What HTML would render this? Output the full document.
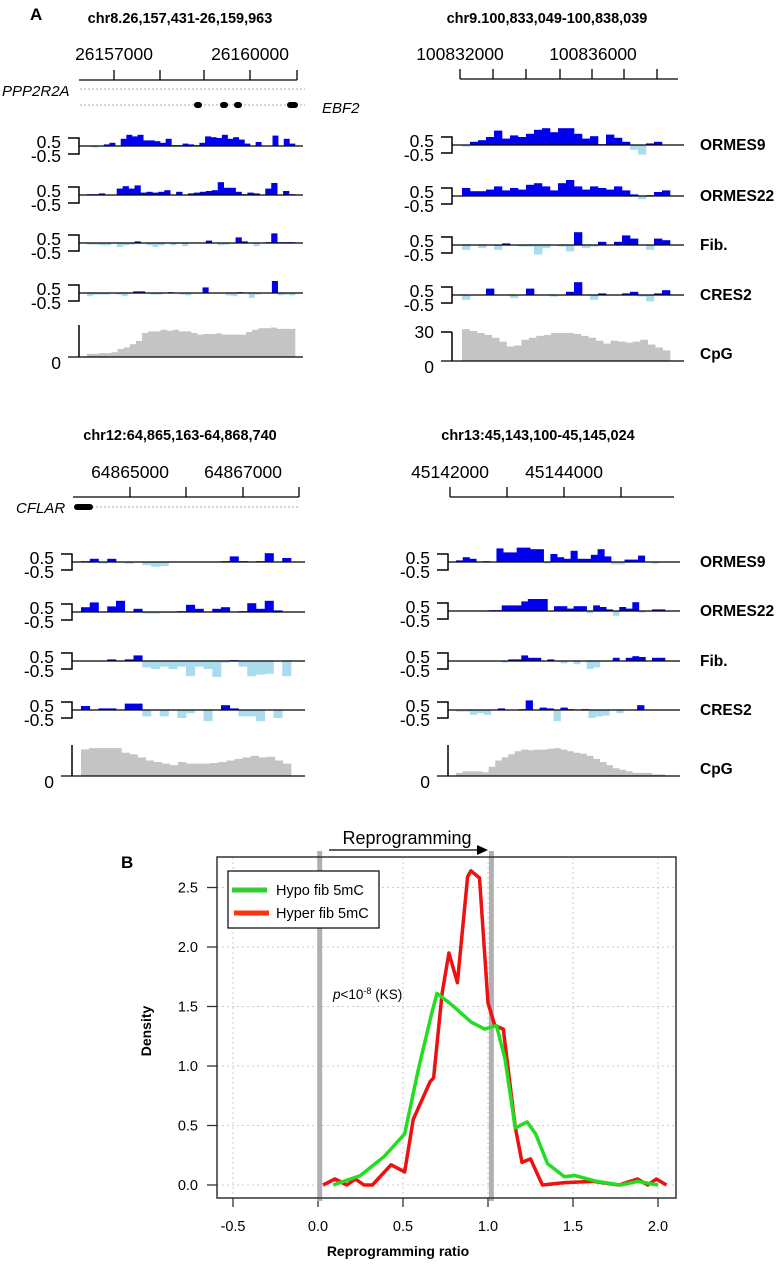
<!DOCTYPE html>
<html><head><meta charset="utf-8"><style>
html,body{margin:0;padding:0;background:#fff}
svg{display:block;font-family:"Liberation Sans",Arial,sans-serif}
</style></head><body>
<svg id="fig" width="778" height="1280" viewBox="0 0 778 1280" xmlns="http://www.w3.org/2000/svg"></svg>
<script>
// ---------- Panel A data ----------
const tlORMES9=[-0.05,-0.1,0,0.1,0.2,0,0.45,0.7,0.6,0.7,0.35,0.35,0.3,0.2,0.45,0.05,0.05,0.15,0.1,0.05,0.2,0.6,0.55,0.5,0.7,0.45,0.55,0.4,0.15,0,0.25,0,0,0.65,0,0.45,0.15];
const tlORMES22=[0.05,0.05,0.1,0,0,0.4,0.55,0.4,0.6,0.15,0.2,0.15,0.2,0.3,0,0.2,0,0.1,0.15,0.2,0.25,0.3,0.8,0.45,0.45,0.2,0.05,0.15,0.1,0,0.4,0.75,0,0.25,0.05];
const tlFib=[-0.1,-0.1,-0.15,-0.15,0,-0.25,-0.15,-0.1,0.1,0,-0.15,-0.25,-0.15,0,-0.15,0,-0.2,0,0,0,0.15,0,-0.15,-0.1,0,0.35,0.1,0,-0.2,0,0.05,0.6,0.05,0.05,0.05];
const tlCRES2=[-0.2,-0.1,-0.1,-0.1,0,-0.1,-0.2,0,0.1,0.1,0,-0.1,-0.1,0,0.05,0,-0.1,-0.15,0,0,0.35,0,0,0,-0.15,-0.2,0.05,0,-0.3,-0.1,0,0,0.75,-0.15,-0.1,-0.15];
const tlCpG=[0.1,0.1,0.12,0.12,0.15,0.25,0.3,0.4,0.5,0.75,0.8,0.8,0.85,0.82,0.85,0.8,0.8,0.75,0.7,0.72,0.72,0.74,0.7,0.7,0.7,0.7,0.78,0.85,0.9,0.9,0.92,0.88,0.88,0.88];

const trORMES9=[-0.1,0.2,0.3,0.5,0.9,0.4,0.6,0.5,0.7,0.95,1.05,0.8,1.05,1.05,0.7,0.4,0.55,0.05,0.65,0.45,0.2,-0.3,-0.6,0.1,0.2,0];
const trORMES22=[0.5,0.3,0.3,0.4,0.6,0.35,0.5,0.4,0.7,0.8,0.6,0.35,0.8,1.0,0.6,0.4,0.6,0.5,0.4,0.6,0.35,0.1,-0.2,0.05,0.25,0.35];
const trFib=[-0.3,0,-0.2,0,-0.3,0.1,0,-0.1,-0.1,-0.6,-0.2,0,-0.1,-0.4,0.8,-0.2,-0.1,0.2,0,0.2,0.6,0.4,0,-0.3,0.4,0.3];
const trCRES2=[-0.3,0,0,0.4,0,0,-0.2,0,0.4,0,0,-0.1,0,0.2,0.8,0,-0.3,0.1,0,0,0.1,0.2,-0.1,-0.4,0.1,0.3];
const trCpG=[33,31,29,27,24,20,15,16,22,24,26,27,29,29,29,28,26,24,21,18,21,20,19,20,22,17,14,11];

const blORMES9=[0.05,0.2,-0.1,0.2,0,-0.1,0,-0.2,-0.3,-0.25,0,0,0,0,0,0,0.05,0.35,0.05,0,0.05,0.55,0,0.25];
const blORMES22=[0.3,0.6,0,0.35,0.7,0,0.2,-0.1,-0.1,-0.05,-0.05,0.05,0.45,0.2,0,0.2,0.3,0,0.05,0.55,0.2,0.7,0.1,0];
const blFib=[0,0,0,0.1,0,0.1,0.35,-0.4,-0.5,-0.35,-0.5,-0.35,-0.95,-0.35,-0.5,-1.0,-0.1,0.05,-0.35,-0.95,-0.85,-0.8,0,-0.95];
const blCRES2=[0.25,0,0.1,0.1,0,0.4,0.4,-0.4,0,-0.4,0,-0.5,-0.2,0,-0.7,0,0.3,0.1,-0.4,-0.4,-0.7,0,-0.5,0];
const blCpG=[0.86,0.9,0.9,0.9,0.9,0.75,0.7,0.6,0.5,0.45,0.4,0.35,0.45,0.4,0.4,0.4,0.42,0.45,0.5,0.55,0.6,0.65,0.6,0.62,0.5,0.4];

const brORMES9=[0.1,0.3,0.2,0,0.05,0,0.85,0.6,0.6,0.9,0.9,0.8,0.8,-0.1,0.5,0.3,0.2,0.7,0.2,0.2,0.45,0.8,0.35,-0.15,-0.15,0.15,0.15,0.4,0,-0.1,0];
const brORMES22=[0,0,0,0,-0.05,0.05,0.05,0.35,0.35,0.35,0.6,0.75,0.75,0.75,0,0.3,0.3,0.15,0.3,0.3,-0.15,0.35,0.25,0.1,-0.3,0.25,0.15,0.55,-0.1,0,0.1,0.1];
const brFib=[0,0,0,0,0,0,0,-0.1,0.1,0.1,0.35,0.2,0.2,0,0.1,0,-0.15,0,-0.2,0,-0.5,-0.4,0,0,0.2,0,0.2,0.3,0.25,0,0.2,0.2];
const brCRES2=[-0.1,-0.1,-0.3,-0.2,-0.3,0,0.1,0,0,0.05,0.6,0,0.15,0.1,-0.7,0.15,0.05,0,0.05,-0.5,-0.4,-0.35,0,-0.2,0,0,0.3,0,0,0];
const brCpG=[0.1,0.15,0.15,0.15,0.12,0.3,0.5,0.6,0.7,0.8,0.85,0.83,0.85,0.85,0.88,0.9,0.85,0.8,0.75,0.72,0.65,0.55,0.45,0.35,0.25,0.2,0.15,0.1,0.1,0.1,0.05,0.05];

const trackNames=["ORMES9","ORMES22","Fib.","CRES2"];

// ---------- Panel B data ----------
const xTicks=[-0.5,0,0.5,1.0,1.5,2.0];
const xTickLabels=["-0.5","0.0","0.5","1.0","1.5","2.0"];
const yTicks=[0,0.5,1.0,1.5,2.0,2.5];
const yTickLabels=["0.0","0.5","1.0","1.5","2.0","2.5"];
const hyperX=[0.03,0.1,0.17,0.22,0.27,0.32,0.43,0.51,0.56,0.66,0.68,0.73,0.77,0.82,0.88,0.9,0.95,1.0,1.04,1.09,1.16,1.2,1.25,1.32,1.45,1.62,1.77,1.88,1.94,1.99,2.05];
const hyperY=[0,0.05,0,0.05,0,0,0.17,0.11,0.55,0.87,0.9,1.61,1.95,1.7,2.59,2.64,2.58,1.53,1.34,1.31,0.49,0.19,0.22,0,0.02,0.03,0,0.05,0,0.05,0];
const hypoX=[0.09,0.25,0.39,0.51,0.59,0.67,0.7,0.79,0.9,0.98,1.05,1.1,1.16,1.23,1.28,1.35,1.45,1.51,1.64,1.78,1.88,2.0];
const hypoY=[0,0.08,0.24,0.43,0.97,1.45,1.61,1.51,1.37,1.31,1.34,1.06,0.48,0.53,0.43,0.18,0.07,0.08,0.03,0,0.03,0];
const vLines=[0.01,1.02];

const NS="http://www.w3.org/2000/svg";
const svg=document.getElementById("fig");
function mk(tag,attrs,parent){const e=document.createElementNS(NS,tag);for(const k in attrs)e.setAttribute(k,attrs[k]);(parent||svg).appendChild(e);return e;}
function txt(s,x,y,attrs,parent){const t=mk("text",Object.assign({x:x,y:y,"font-size":14,fill:"#000"},attrs||{}),parent);t.textContent=s;return t;}

let letterA=txt("A",30,20,{"font-weight":"bold","font-size":17});



const panels=[
 {id:"tl",title:"chr8.26,157,431-26,159,963",tx:180,ty:23,ax0:79,ax1:297,ay:80,ticks:[114,160,204,250,297],labels:[["26157000",114],["26160000",250]],ly:60,
  bx:79,b0:87,b1:295,tracks:[146,195,243,293],cpgTop:325,cpgBase:357,cpgMax:1,cpgLabels:[["0",0]],data:[tlORMES9,tlORMES22,tlFib,tlCRES2],cpg:tlCpG,names:false},
 {id:"tr",title:"chr9.100,833,049-100,838,039",tx:547,ty:23,ax0:460,ax1:678,ay:79,ticks:[460,493,526,560,592,624,657],labels:[["100832000",460],["100836000",593]],ly:60,
  bx:452,b0:462,b1:670,tracks:[145,196,245,295],cpgTop:332,cpgBase:361,cpgMax:30,cpgLabels:[["0",0],["30",30]],data:[trORMES9,trORMES22,trFib,trCRES2],cpg:trCpG,names:true},
 {id:"bl",title:"chr12:64,865,163-64,868,740",tx:180,ty:440,ax0:73,ax1:299,ay:497,ticks:[130,186,243,299],labels:[["64865000",130],["64867000",243]],ly:478,
  bx:72,b0:81,b1:291,tracks:[562,612,661,710],cpgTop:745,cpgBase:776,cpgMax:1,cpgLabels:[["0",0]],data:[blORMES9,blORMES22,blFib,blCRES2],cpg:blCpG,names:false},
 {id:"br",title:"chr13:45,143,100-45,145,024",tx:538,ty:440,ax0:450,ax1:674,ay:497,ticks:[450,507,564,621],labels:[["45142000",450],["45144000",564]],ly:478,
  bx:448,b0:456,b1:665,tracks:[562,611,661,710],cpgTop:745,cpgBase:776,cpgMax:1,cpgLabels:[["0",0]],data:[brORMES9,brORMES22,brFib,brCRES2],cpg:brCpG,names:true}
];
const U=16; // px per unit methylation difference

panels.forEach(p=>{
 const g=mk("g",{});
 
 
 let t=txt(p.title,p.tx,p.ty,{"font-weight":"bold","font-size":14.5,"text-anchor":"middle"},g);
 
 
 let ax=mk("g",{},g);
 
 
 mk("line",{x1:p.ax0,x2:p.ax1,y1:p.ay,y2:p.ay,stroke:"#000","stroke-width":1.3},ax);
 p.ticks.forEach(x=>mk("line",{x1:x,x2:x,y1:p.ay,y2:p.ay-10,stroke:"#000","stroke-width":1.3},ax));
 p.labels.forEach(l=>{let tl=txt(l[0],l[1],p.ly,{"font-size":17.5,"text-anchor":"middle"},ax);
  
  });
 p.data.forEach((arr,ti)=>{
  const base=p.tracks[ti];
  const tg=mk("g",{},g);
  
  
  const w=(p.b1-p.b0)/arr.length;
  arr.forEach((v,i)=>{
   const h=Math.abs(v)*U;
   if(h<0.3)return;
   const r=mk("rect",{x:p.b0+i*w,y:v>0?base-h:base,width:w+0.3,height:h,fill:v>0?"#0000ee":"#aadcee"},tg);
   
   
  });
  mk("line",{x1:p.bx,x2:p.ax1+6,y1:base,y2:base,stroke:"#000","stroke-width":1.3},tg);
  mk("path",{d:`M${p.bx-11},${base-8}H${p.bx}V${base+8}H${p.bx-11}`,fill:"none",stroke:"#000","stroke-width":1.5},tg);
  txt("0.5",p.bx-18,base+2,{"font-size":17.5,"text-anchor":"end"},tg);
  txt("-0.5",p.bx-18,base+16,{"font-size":17.5,"text-anchor":"end"},tg);
  if(p.names){let nl=txt(trackNames[ti],700,base+5,{"font-weight":"bold","font-size":15.5},tg);
   
   }
 });
 const cg=mk("g",{},g);
 
 
 const cw=(p.b1-p.b0)/p.cpg.length;
 const sc=(p.cpgBase-p.cpgTop)/p.cpgMax;
 p.cpg.forEach((v,i)=>{
  const r=mk("rect",{x:p.b0+i*cw,y:p.cpgBase-v*sc,width:cw+0.3,height:v*sc,fill:"#c4c4c4"},cg);
  
  
 });
 mk("line",{x1:p.bx-11,x2:p.ax1+6,y1:p.cpgBase,y2:p.cpgBase,stroke:"#000","stroke-width":1.3},cg);
 mk("line",{x1:p.bx,x2:p.bx,y1:p.cpgTop,y2:p.cpgBase,stroke:"#000","stroke-width":1.5},cg);
 p.cpgLabels.forEach(l=>{const y=p.cpgBase-l[1]*sc;
  if(l[1]>0)mk("line",{x1:p.bx-11,x2:p.bx,y1:y,y2:y,stroke:"#000","stroke-width":1.5},cg);
  txt(l[0],p.bx-18,y+(l[1]>0?6:12),{"font-size":17.5,"text-anchor":"end"},cg);});
 if(p.names){let nl=txt("CpG",700,p.cpgBase-2,{"font-weight":"bold","font-size":15.5},cg);
  
  }
});

// gene annotations
(function(){
 const g=mk("g",{});
 
 
 mk("line",{x1:80,x2:305,y1:89,y2:89,stroke:"#aaa","stroke-dasharray":"2,2"},g);
 txt("PPP2R2A",2,96,{"font-size":15,"font-style":"italic"},g);
 mk("line",{x1:80,x2:305,y1:105,y2:105,stroke:"#aaa","stroke-dasharray":"2,2"},g);
 [198,224,238].forEach(x=>mk("rect",{x:x-4,y:102,width:8,height:6,rx:3,fill:"#000"},g));
 mk("rect",{x:287,y:102,width:11,height:6,rx:3,fill:"#000"},g);
 txt("EBF2",322,113,{"font-size":15,"font-style":"italic"},g);
 mk("line",{x1:92,x2:299,y1:507,y2:507,stroke:"#aaa","stroke-dasharray":"2,2"},g);
 mk("rect",{x:74,y:504,width:19,height:6,rx:3,fill:"#000"},g);
 txt("CFLAR",16,513,{"font-size":15,"font-style":"italic"},g);
})();

// ---------- Panel B ----------
const L=217,R=676,T=857,B=1198;
const xs=v=>318+v*170;
const ys=v=>1185-v*119;
let letterB=txt("B",121,868,{"font-weight":"bold","font-size":17});


const grid=mk("g",{});


xTicks.forEach(v=>mk("line",{x1:xs(v),x2:xs(v),y1:T,y2:B,stroke:"#ccc","stroke-dasharray":"2,3"},grid));
yTicks.forEach(v=>mk("line",{x1:L,x2:R,y1:ys(v),y2:ys(v),stroke:"#ccc","stroke-dasharray":"2,3"},grid));
const xa=mk("g",{});


xTicks.forEach((v,i)=>{mk("line",{x1:xs(v),x2:xs(v),y1:B,y2:B+9,stroke:"#333","stroke-width":1.3},xa);
 txt(xTickLabels[i],xs(v),1231,{"font-size":14.5,"text-anchor":"middle"},xa);});
const ya=mk("g",{});


yTicks.forEach((v,i)=>{mk("line",{x1:L-10,x2:L,y1:ys(v),y2:ys(v),stroke:"#333","stroke-width":1.3},ya);
 txt(yTickLabels[i],198,ys(v)+5,{"font-size":14.5,"text-anchor":"end"},ya);});
let xt=txt("Reprogramming ratio",398,1256,{"font-size":14,"font-weight":"bold","text-anchor":"middle"});


let yt=txt("Density",0,0,{"font-size":14,"font-weight":"bold","text-anchor":"middle",transform:"translate(151,1031) rotate(-90)"});


vLines.forEach(v=>{const l=mk("line",{x1:xs(v),x2:xs(v),y1:T-6,y2:B+3,stroke:"#b0b0b0","stroke-width":5});
 
 });
function curve(X,Y,col,name){
 const d=X.map((x,i)=>(i?"L":"M")+xs(x).toFixed(1)+","+ys(Y[i]).toFixed(1)).join("");
 const p=mk("path",{d:d,fill:"none",stroke:col,"stroke-width":3.5,"stroke-linejoin":"round"});
 
 
}
curve(hyperX,hyperY,"#ee1111","hyper-fib-5mc-curve");
curve(hypoX,hypoY,"#22dd22","hypo-fib-5mc-curve");
mk("rect",{x:L,y:T,width:R-L,height:B-T,fill:"none",stroke:"#333","stroke-width":1.5});
const lg=mk("g",{});


mk("rect",{x:228,y:871,width:151,height:57,fill:"#fff",stroke:"#000","stroke-width":1.2},lg);
mk("line",{x1:232,x2:267,y1:890,y2:890,stroke:"#33cc33","stroke-width":5},lg);
mk("line",{x1:234,x2:269,y1:913,y2:913,stroke:"#ff3311","stroke-width":5},lg);
let le1=txt("Hypo fib 5mC",276,895,{"font-size":14.5},lg);


let le2=txt("Hyper fib 5mC",276,918,{"font-size":14.5},lg);


let rp=txt("Reprogramming",407,844,{"font-size":18,"text-anchor":"middle"});


const ar=mk("g",{});


mk("line",{x1:329,x2:478,y1:850,y2:850,stroke:"#000","stroke-width":1.3},ar);
mk("path",{d:"M477,845L488,850L477,855Z",fill:"#000"},ar);
const pv=mk("text",{x:333,y:999,"font-size":13.5,fill:"#000"});


pv.innerHTML='<tspan font-style="italic">p</tspan>&lt;10<tspan font-size="9" dy="-5">-8</tspan><tspan dy="5"> (KS)</tspan>';
</script>
</body></html>
